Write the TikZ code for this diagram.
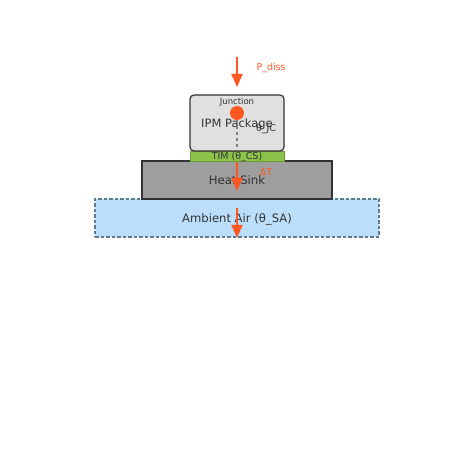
\documentclass[tikz,border=0pt]{standalone}
\usepackage{fontspec}
\setmainfont{DejaVu Sans}
\usetikzlibrary{arrows.meta}
\definecolor{heat}{HTML}{FF5722}
\definecolor{inkgray}{HTML}{333333}
\definecolor{pkggray}{HTML}{E0E0E0}
\definecolor{sinkgray}{HTML}{9E9E9E}
\definecolor{timgreen}{HTML}{8BC34A}
\definecolor{airblue}{HTML}{BBDEFB}
\definecolor{airedge}{HTML}{607D8B}
\tikzset{
  layer/.style={draw=inkgray, line width=1.2pt, text=inkgray, inner sep=0pt, text depth=0pt},
  flow/.style={draw=heat, line width=1.8pt, -{Triangle[length=13pt,width=11pt]}},
  tag/.style={text=heat, font=\fontsize{9.5}{11}\selectfont}
}
\begin{document}
\begin{tikzpicture}[x=1pt,y=1pt]
  \useasboundingbox (0,0) rectangle (474,474);
  % layers, bottom to top
  \node[layer, draw=airedge, dash pattern=on 3.5pt off 2pt, fill=airblue, minimum width=284pt, minimum height=38pt,
        font=\fontsize{11.6}{13}\selectfont] (air) at (237,256) {Ambient Air (θ\_SA)};
  \node[layer, fill=sinkgray, minimum width=190pt, minimum height=38pt,
        font=\fontsize{11.7}{13}\selectfont] (sink) at (237,294) {Heat Sink};
  \node[layer, draw=timgreen!80!black, line width=0.6pt, fill=timgreen, minimum width=94pt, minimum height=10pt,
        font=\fontsize{9.5}{10}\selectfont] (tim) at (237,318) {TIM (θ\_CS)};
  \node[layer, rounded corners=4pt, fill=pkggray, minimum width=94pt, minimum height=56pt,
        font=\fontsize{11.5}{13}\selectfont] (ipm) at (237,351) {IPM Package};
  \node[text=inkgray, font=\fontsize{8.5}{9}\selectfont] (junc) at (237,372) {Junction};
  \node[circle, fill=heat, minimum size=14pt, inner sep=0pt] (dot) at (237,361) {};
  \coordinate (rjc) at (237,324);
  \draw[gray, dashed, line width=1.2pt] (dot) -- (rjc);
  \node[text=inkgray, font=\fontsize{9.5}{10}\selectfont] (thjc) at (266,345) {θ\_JC};
  % heat flow
  \coordinate (in) at (237,417);
  \coordinate (inend) at (237,387);
  \draw[flow] (in) -- (inend);
  \node[tag, anchor=west] (pdiss) at (253,405.5) {P\_diss};
  \coordinate (mid) at (237,312);
  \coordinate (midend) at (237,283);
  \draw[flow] (mid) -- (midend);
  \node[tag] (dt) at (266,301.5) {ΔT};
  \coordinate (out) at (237,266);
  \coordinate (outend) at (237,236);
  \draw[flow] (out) -- (outend);
\end{tikzpicture}
\end{document}
